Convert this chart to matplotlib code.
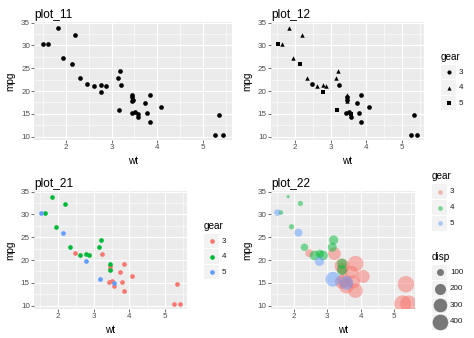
import numpy as np
import matplotlib.pyplot as plt
from matplotlib.patches import Rectangle

plt.rcParams['font.family'] = ['Liberation Sans', 'DejaVu Sans']

# mtcars columns used by the four panels
wt = [2.620, 2.875, 2.320, 3.215, 3.440, 3.460, 3.570, 3.190, 3.150, 3.440,
      3.440, 4.070, 3.730, 3.780, 5.250, 5.424, 5.345, 2.200, 1.615, 1.835,
      2.465, 3.520, 3.435, 3.840, 3.845, 1.935, 2.140, 1.513, 3.170, 2.770,
      3.570, 2.780]
mpg = [21.0, 21.0, 22.8, 21.4, 18.7, 18.1, 14.3, 24.4, 22.8, 19.2,
       17.8, 16.4, 17.3, 15.2, 10.4, 10.4, 14.7, 32.4, 30.4, 33.9,
       21.5, 15.5, 15.2, 13.3, 19.2, 27.3, 26.0, 30.4, 15.8, 19.7,
       15.0, 21.4]
gear = [4, 4, 4, 3, 3, 3, 3, 4, 4, 4,
        4, 3, 3, 3, 3, 3, 3, 4, 4, 4,
        3, 3, 3, 3, 3, 4, 5, 5, 5, 5,
        5, 4]
disp = [160.0, 160.0, 108.0, 258.0, 360.0, 225.0, 360.0, 146.7, 140.8, 167.6,
        167.6, 275.8, 275.8, 275.8, 472.0, 460.0, 440.0, 78.7, 75.7, 71.1,
        120.1, 318.0, 304.0, 350.0, 400.0, 79.0, 120.3, 95.1, 351.0, 145.0,
        301.0, 121.0]

gear_levels = [3, 4, 5]
gear_colors = ['#F8766D', '#00BA38', '#619CFF']
gear_markers = ['o', '^', 's']
disp_breaks = [100, 200, 300, 400]

wt = np.array(wt)
mpg = np.array(mpg)
gear = np.array(gear)
disp = np.array(disp)

W, H = 474, 338
fig = plt.figure(figsize=(W / 100, H / 100), dpi=100)
fig.patch.set_facecolor('white')


def box(l, t, r, b):
    return [l / W, 1 - b / H, (r - l) / W, (b - t) / H]


def gg_size(d):
    # scale_size: area-proportional, range 1..6
    lo, hi = disp.min(), disp.max()
    return 1 + 5 * np.sqrt((np.asarray(d, float) - lo) / (hi - lo))


def area(size):
    # point size -> scatter area (pt^2)
    return (0.4 + 1.97 * np.asarray(size)) ** 2


def expand(v):
    pad = 0.05 * (v.max() - v.min())
    return v.min() - pad, v.max() + pad


def panel(rect, title):
    ax = fig.add_axes(box(*rect))
    ax.set_facecolor('#EBEBEB')
    for s in ax.spines.values():
        s.set_visible(False)
    ax.set_xlim(*expand(wt))
    ax.set_ylim(*expand(mpg))
    ax.set_xticks([2, 3, 4, 5])
    ax.set_yticks([10, 15, 20, 25, 30, 35])
    ax.set_xticks([1.5, 2.5, 3.5, 4.5, 5.5], minor=True)
    ax.set_yticks([12.5, 17.5, 22.5, 27.5, 32.5], minor=True)
    ax.grid(which='major', color='white', lw=0.8)
    ax.grid(which='minor', color='white', lw=0.4)
    ax.set_axisbelow(True)
    ax.tick_params(which='major', length=2, width=0.5, color='#333333',
                   pad=1, labelsize=5.8, labelcolor='#4D4D4D')
    ax.tick_params(which='minor', length=0)
    ax.set_xlabel('wt', fontsize=7.2, labelpad=3.5)
    ax.set_ylabel('mpg', fontsize=7.2, labelpad=4)
    ax.set_title(title, loc='left', fontsize=8.6, pad=3)
    return ax


def legend(l, t, title, labels, keys, key_h):
    n = len(labels)
    w, h = 40, 15 + key_h * n
    ax = fig.add_axes(box(l, t, l + w, t + h))
    ax.set_xlim(0, w)
    ax.set_ylim(h, 0)
    ax.axis('off')
    ax.text(0, 7.5, title, fontsize=7.2, va='center', ha='left')
    for i, (lab, (m, c, s, a)) in enumerate(zip(labels, keys)):
        y = 15 + i * key_h
        ax.add_patch(Rectangle((0, y + 0.5), 15, key_h - 1, fc='#F2F2F2', ec='none'))
        ax.scatter([7.5], [y + key_h / 2], marker=m, s=s, c=c, alpha=a,
                   lw=0, clip_on=False)
        ax.text(18, y + key_h / 2, str(lab), fontsize=5.8, va='center',
                color='#1A1A1A')


base = area(1.5)

# plot_11: plain scatter
ax11 = panel((34.3, 22.3, 231.8, 140.2), 'plot_11')
ax11.scatter(wt, mpg, s=base, c='black', lw=0)

# plot_12: shape by gear
ax12 = panel((271.0, 22.3, 424.1, 140.2), 'plot_12')
for g, m in zip(gear_levels, gear_markers):
    k = gear == g
    ax12.scatter(wt[k], mpg[k], s=base * (1.0 if m == 'o' else 0.9),
                 c='black', marker=m, lw=0)
legend(441, 49.3, 'gear', gear_levels,
       [(m, 'black', base * 0.8, 1) for m in gear_markers], 15.5)

# plot_21: colour by gear
ax21 = panel((34.0, 191.3, 187.1, 309.2), 'plot_21')
for g, c in zip(gear_levels, gear_colors):
    k = gear == g
    ax21.scatter(wt[k], mpg[k], s=base, c=c, lw=0)
legend(204, 218.3, 'gear', gear_levels,
       [('o', c, base, 1) for c in gear_colors], 15.5)

# plot_22: colour by gear, size by disp
ax22 = panel((270.8, 191.3, 415.1, 309.2), 'plot_22')
for g, c in zip(gear_levels, gear_colors):
    k = gear == g
    ax22.scatter(wt[k], mpg[k], s=area(gg_size(disp[k])), c=c, alpha=0.5, lw=0)
legend(432, 168.8, 'gear', gear_levels,
       [('o', c, base, 0.5) for c in gear_colors], 15.8)
legend(432, 249.0, 'disp', disp_breaks,
       [('o', 'black', area(gg_size(b)), 0.5) for b in disp_breaks], 16.5)

fig.savefig('out.png', dpi=100)
